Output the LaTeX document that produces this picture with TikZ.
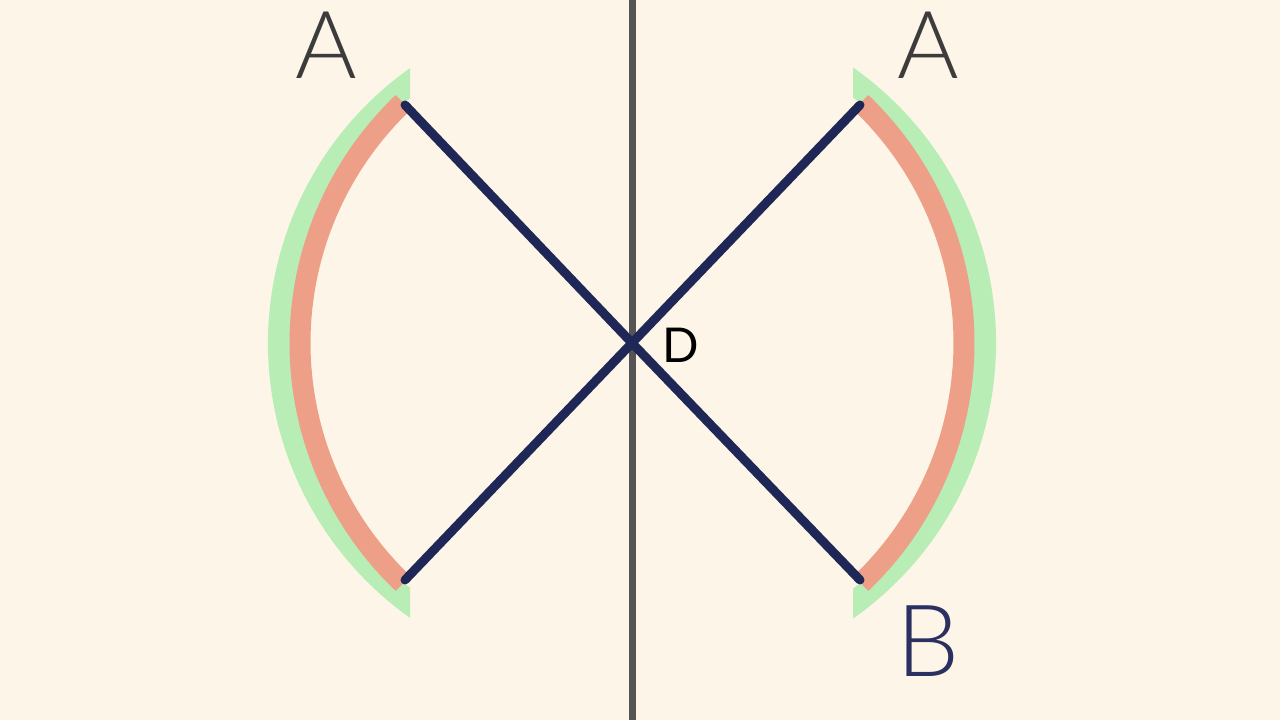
\documentclass[tikz,border=0pt]{standalone}
\usepackage{fontspec}
\setmainfont{Lato}[UprightFont=* Light]
\newfontfamily\latoreg{Lato}
\definecolor{bg}{HTML}{FDF6E8}
\definecolor{salmon}{HTML}{EE9F87}
\definecolor{mint}{HTML}{B8EDB5}
\definecolor{navy}{HTML}{1F2757}
\definecolor{axisgray}{HTML}{555555}
\definecolor{labelgray}{HTML}{3C3C3C}
\definecolor{labelnavy}{HTML}{2B3060}
\begin{document}
\begin{tikzpicture}[x=1pt,y=1pt,
  ray/.style={draw=navy,line width=9pt,line cap=round},
  redarc/.style={draw=salmon,line width=21pt},
  greenarc/.style={draw=mint,line width=24pt},
  axis/.style={draw=axisgray,line width=7pt},
  lbl/.style={inner sep=0pt,font=\fontsize{94}{100}\selectfont}]
\useasboundingbox[fill=bg] (0,0) rectangle (1280,720);
\coordinate (D) at (632,377);
\coordinate (GL) at (605,377);
\coordinate (GR) at (659,377);
\coordinate (LT) at (405,615);
\coordinate (LB) at (405,140);
\coordinate (RT) at (860,615);
\coordinate (RB) at (860,140);
\coordinate (Top) at (632,720);
\coordinate (Bot) at (632,0);
% green arcs
\begin{scope}
  \clip (0,0) rectangle (410,720);
  \draw[greenarc] ([shift={(120:325)}]GL) arc[start angle=120,end angle=240,radius=325];
\end{scope}
\begin{scope}
  \clip (853,0) rectangle (1280,720);
  \draw[greenarc] ([shift={(-60:325)}]GR) arc[start angle=-60,end angle=60,radius=325];
\end{scope}
% red arcs
\draw[redarc] ([shift={(133.6:332)}]D) arc[start angle=133.6,end angle=226.4,radius=332];
\draw[redarc] ([shift={(-46.4:332)}]D) arc[start angle=-46.4,end angle=46.4,radius=332];
% axis
\draw[axis] (Top) -- (Bot);
% rays
\draw[ray] (LT) -- (D) -- (RB);
\draw[ray] (LB) -- (D) -- (RT);
% labels
\node[lbl,text=labelgray] (A1) at (326,675) {A};
\node[lbl,text=labelgray] (A2) at (928,675) {A};
\node[lbl,text=labelnavy,font=\fontsize{100}{110}\selectfont] (B) at (928,79) {B};
\node[lbl,text=black,font=\latoreg\fontsize{48}{54}\selectfont] (Dl) at (681,375) {D};
\end{tikzpicture}
\end{document}
